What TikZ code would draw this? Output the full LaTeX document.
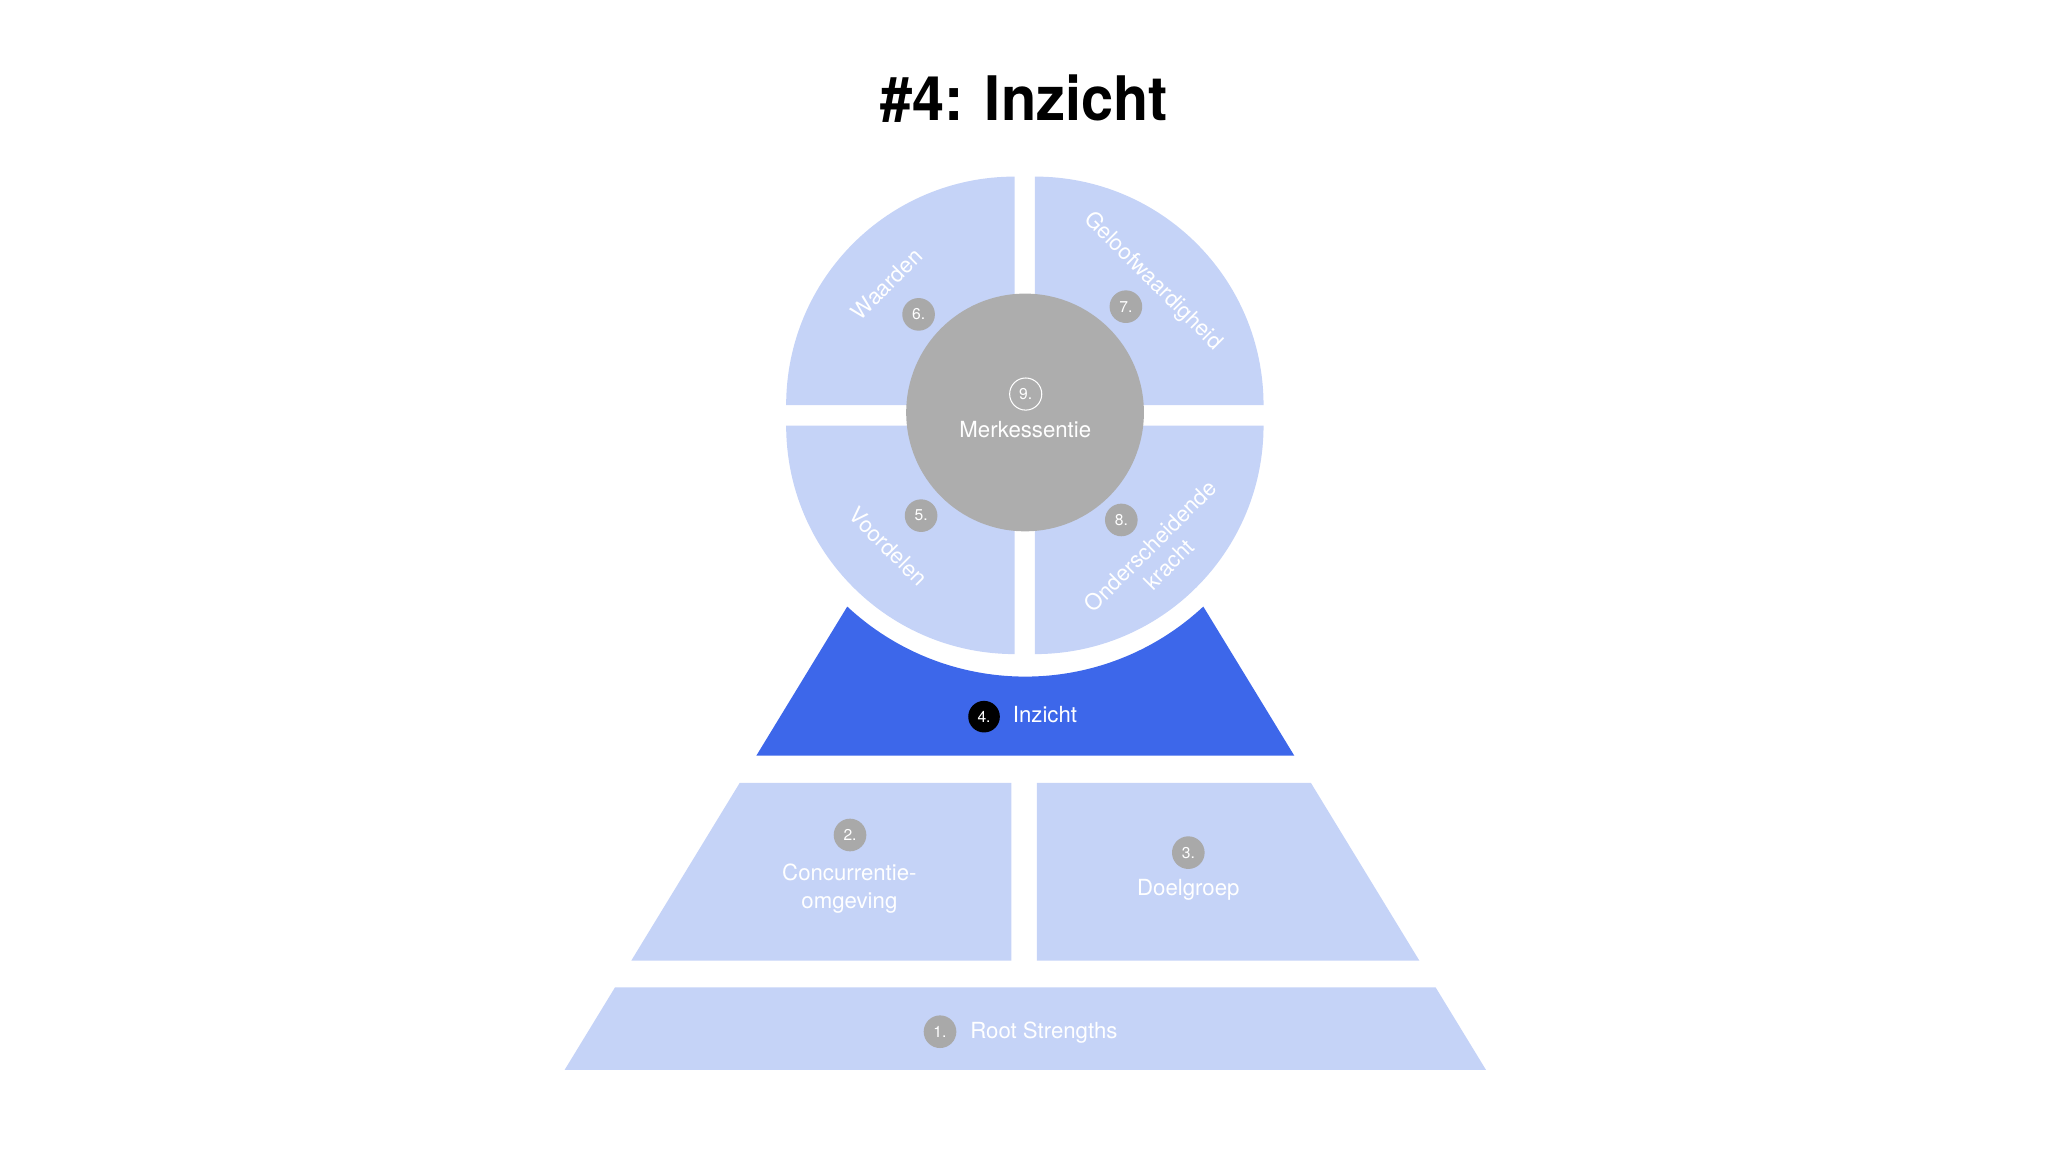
\documentclass[tikz,border=0pt]{standalone}
\usepackage{graphicx}
\usepackage{fontspec}
\setmainfont{TeX Gyre Heros}
\definecolor{lightblue}{HTML}{C5D3F7}
\definecolor{mainblue}{HTML}{3D67EA}
\definecolor{centergray}{HTML}{ADADAD}
\definecolor{badgegray}{HTML}{A9A9A9}
\begin{document}
\begin{tikzpicture}[x=1pt,y=1pt,
  tier/.style={fill=lightblue},
  badge/.style={circle, fill=badgegray, minimum size=25pt, inner sep=0pt, text=white, font=\fontsize{12}{12}\selectfont},
  lbl/.style={text=white, font=\fontsize{17}{20}\selectfont, inner sep=0pt, align=center},
]
\useasboundingbox (0,0) rectangle (1568,886.6);

% title
\node[anchor=base, inner sep=0pt, font=\bfseries\fontsize{47}{47}\selectfont] (title) at (784,794.7) {\scalebox{0.94}[1]{\#4: Inzicht}};

% circle quadrants
\fill[lightblue] (776.9,576.4) -- ++(-175,0) arc[start angle=180,end angle=90,radius=175] -- cycle;
\fill[lightblue] (792.4,576.4) -- ++(175,0) arc[start angle=0,end angle=90,radius=175] -- cycle;
\fill[lightblue] (776.9,560.8) -- ++(-175,0) arc[start angle=180,end angle=270,radius=175] -- cycle;
\fill[lightblue] (792.4,560.8) -- ++(175,0) arc[start angle=0,end angle=-90,radius=175] -- cycle;

% center
\node[circle, fill=centergray, minimum size=182pt, inner sep=0pt] (core) at (784.8,570.8) {};
\node[circle, draw=white, line width=0.8pt, minimum size=24.6pt, inner sep=0pt, text=white, font=\fontsize{12}{12}\selectfont] (b9) at (785.3,584.9) {9.};
\node[lbl, anchor=base] (merk) at (785,551.8) {Merkessentie};

% quadrant badges and labels
\node[badge] (b6) at (703.3,645.9) {6.};
\node[badge] (b7) at (862,651.8) {7.};
\node[badge] (b5) at (705.2,491.8) {5.};
\node[badge] (b8) at (858.5,488.5) {8.};
\node[lbl, rotate=45] (waarden) at (678.9,669.2) {Waarden};
\node[lbl, rotate=-45] (geloof) at (882.7,671.2) {Geloofwaardigheid};
\node[lbl, rotate=-45] (voordelen) at (680.2,468.1) {Voordelen};
\node[lbl, rotate=45] (onder) at (887.7,461.6) {Onderscheidende\\kracht};

% tier 4 (blue)
\fill[mainblue] (579.1,308.1) -- (648.68,422.2) arc[start angle=227.04,end angle=312.96,radius=200] -- (990.9,308.1) -- cycle;
\node[circle, fill=black, minimum size=24.2pt, inner sep=0pt, text=white, font=\fontsize{12}{12}\selectfont] (b4) at (753.4,337.9) {4.};
\node[lbl, anchor=base west] (inzicht) at (775.3,333.3) {Inzicht};

% middle tier
\fill[lightblue] (483.3,151.1) -- (566.4,287.3) -- (774.3,287.3) -- (774.3,151.1) -- cycle;
\fill[lightblue] (793.8,151.1) -- (793.8,287.3) -- (1003.6,287.3) -- (1086.7,151.1) -- cycle;
\node[badge] (b2) at (650.8,247.3) {2.};
\node[lbl, anchor=base] (conc1) at (650.3,212.8) {Concurrentie-};
\node[lbl, anchor=base] (conc2) at (650.3,191.3) {omgeving};
\node[badge] (b3) at (909.8,233.8) {3.};
\node[lbl, anchor=base] (doel) at (909.8,200.9) {Doelgroep};

% bottom tier
\fill[lightblue] (432.25,67.4) -- (470.9,130.7) -- (1099.1,130.7) -- (1137.75,67.4) -- cycle;
\node[badge] (b1) at (719.7,96.7) {1.};
\node[lbl, anchor=base west] (root) at (742.7,91.6) {Root Strengths};
\end{tikzpicture}
\end{document}
